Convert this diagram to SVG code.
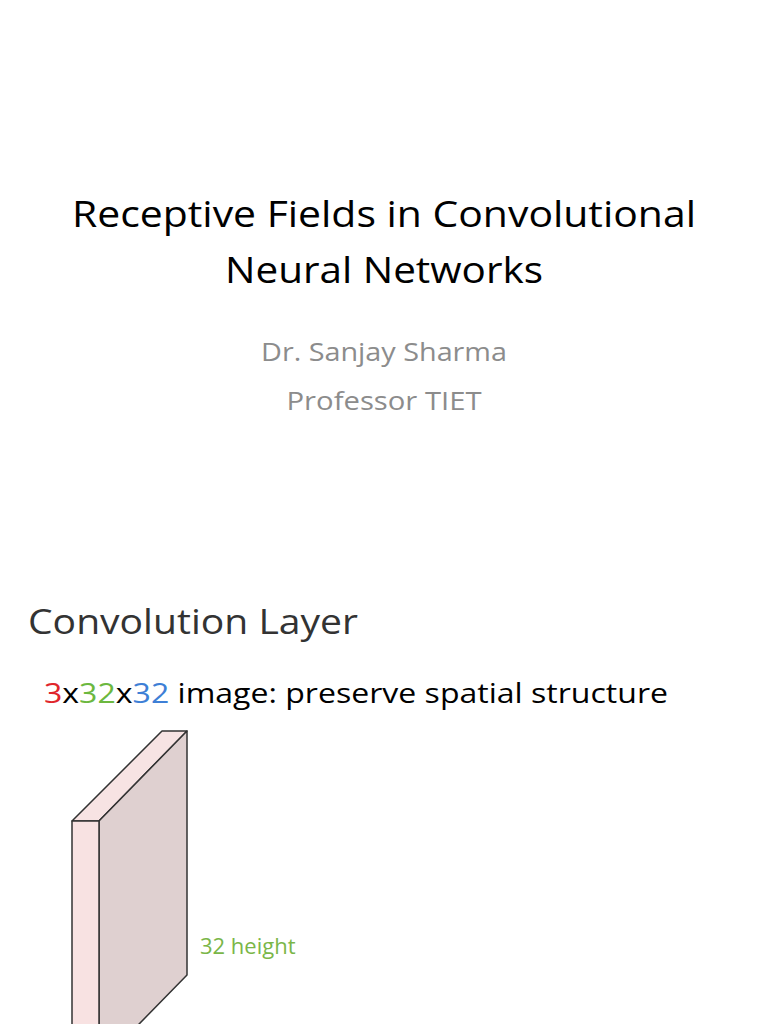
<svg xmlns="http://www.w3.org/2000/svg" width="768" height="1024" viewBox="0 0 768 1024">
<style>
text{font-family:"Open Sans","Liberation Sans",sans-serif}
.t{font-size:37px;fill:#000}
.s{font-size:26px;fill:#8c8c8c}
.edge{stroke:#333;stroke-width:1.5;stroke-linejoin:round}
</style>
<rect width="768" height="1024" fill="#fff"/>
<text class="t" x="384" y="227" text-anchor="middle" textLength="624" lengthAdjust="spacingAndGlyphs">Receptive Fields in Convolutional</text>
<text class="t" x="384" y="283" text-anchor="middle" textLength="318" lengthAdjust="spacingAndGlyphs">Neural Networks</text>
<text class="s" x="384" y="361" text-anchor="middle" textLength="246" lengthAdjust="spacingAndGlyphs">Dr. Sanjay Sharma</text>
<text class="s" x="384" y="410" text-anchor="middle" textLength="195" lengthAdjust="spacingAndGlyphs">Professor TIET</text>
<text x="28" y="634" font-size="35" fill="#333" textLength="330" lengthAdjust="spacingAndGlyphs">Convolution Layer</text>
<text x="44" y="703" font-size="27" fill="#000" textLength="624" lengthAdjust="spacingAndGlyphs"><tspan fill="#e0262b">3</tspan>x<tspan fill="#6cb83f">32</tspan>x<tspan fill="#3e7fd6">32</tspan> image: preserve spatial structure</text>
<g id="volume">
<polygon class="edge" points="72,821 162,731 187,731 99,821" fill="#f7e3e3"/>
<polygon class="edge" points="99,821 187,731 187,975 99,1065" fill="#dfd0d0"/>
<polygon class="edge" points="72,821 99,821 99,1065 72,1065" fill="#f8e2e2"/>
</g>
<text x="200" y="954" font-size="22" fill="#7ab648">32   height</text>
</svg>
